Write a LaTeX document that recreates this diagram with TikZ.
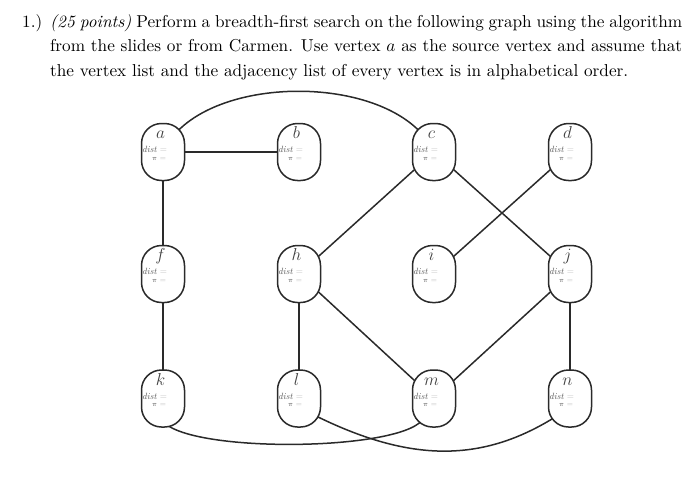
\documentclass[tikz,border=0pt]{standalone}
\usetikzlibrary{backgrounds,calc}
\definecolor{ln}{HTML}{2A2A2A}
\definecolor{lettc}{HTML}{404040}
\definecolor{distc}{HTML}{5E5E5E}
\definecolor{eqc}{HTML}{BDBDBD}
\definecolor{pic}{HTML}{505050}
\newlength\lthree
\tikzset{
  vert/.style={draw=ln, line width=1.5pt, fill=white, rounded corners=20pt,
    minimum width=43pt, minimum height=57pt, inner sep=0pt},
  edge/.style={draw=ln, line width=1.5pt},
  vlett/.style={inner sep=0pt, text=lettc, font=\fontsize{17}{17}\selectfont, anchor=base},
  vdist/.style={inner sep=0pt, text=distc, font=\fontsize{9}{9}\selectfont\itshape, anchor=base west},
  vpi/.style={inner sep=0pt, text=pic, font=\fontsize{7.5}{8}\selectfont, anchor=base west},
  ttl/.style={inner sep=0pt, anchor=base west, text=black}
}
\newcommand\vtx[4]{%
  \node[vert] (#1) at (#2,#3) {};
  \node[vlett] (#1-n) at (#2-2.5,#3-13.5) {$#4$};
  \node[vdist] (#1-d) at (#2-21,#3+0.5) {dist \textcolor{eqc}{\upshape=}};
  \node[vpi] (#1-p) at (#2-11,#3+8) {$\pi$ \textcolor{eqc}{=}};
}
\begin{document}
\settowidth\lthree{\fontsize{10}{12}\selectfont the vertex list and the adjacency list of every vertex is in alphabetical order.}%
\pgfmathsetmacro\tsc{578/\lthree}%
\pgfmathsetlengthmacro\tw{632/\tsc}%
\begin{tikzpicture}[x=1pt,y=-1pt]
\useasboundingbox (0,0) rectangle (700,479);
% title
\node[ttl] (t0) at (22,27) {\fontsize{10}{12}\selectfont\scalebox{\tsc}{1.)}};
\node[ttl] (t1) at (50,27) {\fontsize{10}{12}\selectfont\scalebox{\tsc}{\hbox to \tw{\textit{(25 points)} Perform a breadth-first search on the following graph using the algorithm}}};
\node[ttl] (t2) at (50,51.5) {\fontsize{10}{12}\selectfont\scalebox{\tsc}{\hbox to \tw{from the slides or from Carmen. Use vertex $a$ as the source vertex and assume that}}};
\node[ttl] (t3) at (50,76) {\fontsize{10}{12}\selectfont\scalebox{\tsc}{the vertex list and the adjacency list of every vertex is in alphabetical order.}};
% vertices
\vtx{a}{163}{152}{a}
\vtx{b}{299}{152}{b}
\vtx{c}{434}{152}{c}
\vtx{d}{570}{152}{d}
\vtx{f}{163}{274}{f}
\vtx{h}{299}{274}{h}
\vtx{i}{434}{274}{i}
\vtx{j}{570}{274}{j}
\vtx{k}{163}{398.5}{k}
\vtx{l}{299}{398.5}{l}
\vtx{m}{434}{398.5}{m}
\vtx{n}{570}{398.5}{n}
% edges
\begin{scope}[on background layer]
\draw[edge] (a.center) -- (b.center);
\draw[edge] (a.center) .. controls (200,71) and (397,71) .. (c.center);
\draw[edge] (a.center) -- (f.center);
\draw[edge] (f.center) -- (k.center);
\draw[edge] (c.center) -- (h.center);
\draw[edge] (c.center) -- (j.center);
\draw[edge] (d.center) -- (i.center);
\draw[edge] (h.center) -- (l.center);
\draw[edge] (h.center) -- (m.center);
\draw[edge] (j.center) -- (m.center);
\draw[edge] (j.center) -- (n.center);
\draw[edge] ($(k.center)+(1,24)$) .. controls (195,453) and (395,451) .. ($(m.center)+(-12,22)$);
\draw[edge] ($(l.center)+(14,16)$) .. controls (410,463) and (482,463) .. ($(n.center)+(-14,18)$);
\end{scope}
\end{tikzpicture}
\end{document}
